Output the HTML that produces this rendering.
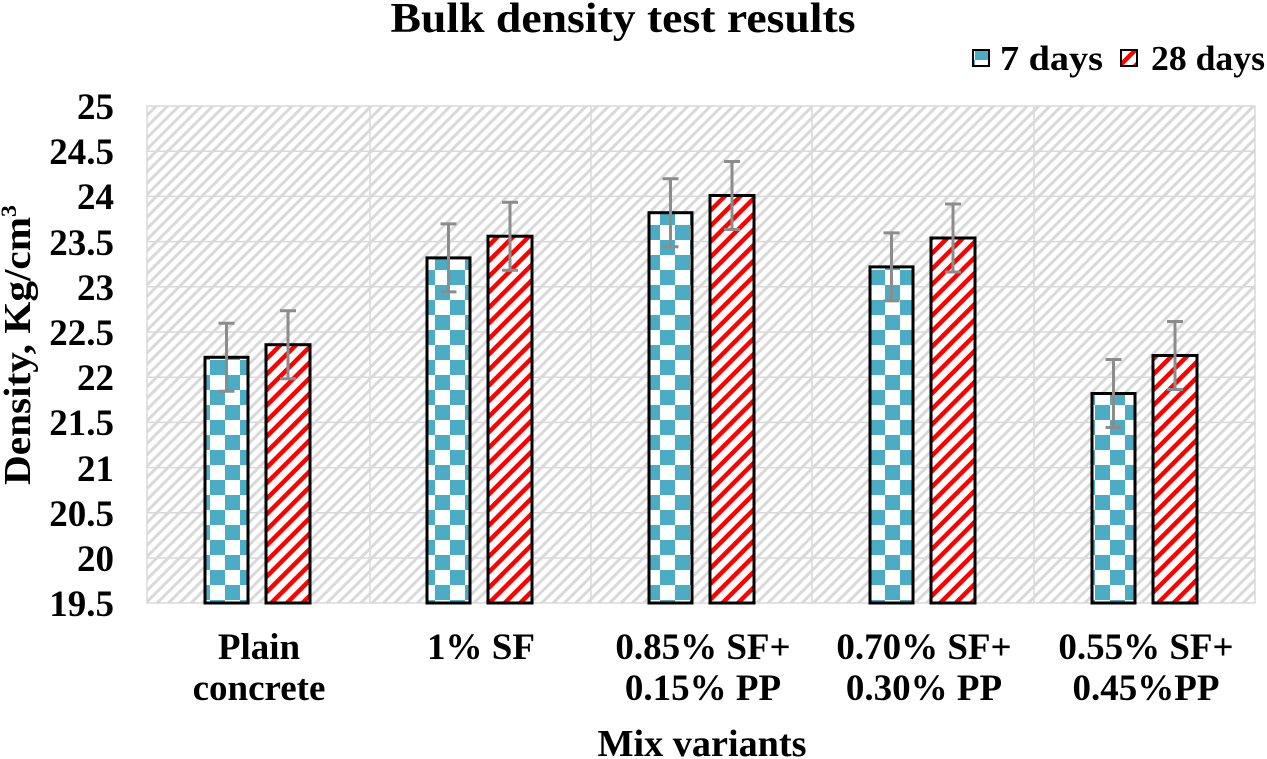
<!DOCTYPE html>
<html><head><meta charset="utf-8"><style>
html,body{margin:0;padding:0;background:#fff;}
svg{display:block;font-family:"Liberation Serif",serif;font-weight:bold;}
</style></head><body>
<svg width="1267" height="759" viewBox="0 0 1267 759" xmlns="http://www.w3.org/2000/svg">
<defs>
<pattern id="bg" width="8" height="8" patternUnits="userSpaceOnUse" patternTransform="rotate(45)">
<rect width="8" height="8" fill="#fff"/><rect width="3" height="8" fill="#d9d9d9"/>
</pattern>
<pattern id="chk" width="30" height="30" patternUnits="userSpaceOnUse" x="0" y="0">
<rect width="30" height="30" fill="#fff"/><rect width="15" height="15" fill="#4bacc6"/><rect x="15" y="15" width="15" height="15" fill="#4bacc6"/>
</pattern>
<pattern id="str" width="11" height="11" patternUnits="userSpaceOnUse" patternTransform="rotate(45)">
<rect width="11" height="11" fill="#fff"/><rect width="4.5" height="11" fill="#ff0000"/>
</pattern>
</defs>
<text x="623" y="32" font-size="42" text-anchor="middle" textLength="465" lengthAdjust="spacingAndGlyphs">Bulk density test results</text>
<rect x="973" y="50" width="16" height="16" fill="url(#chk)" stroke="#000" stroke-width="2"/>
<text x="1000" y="70" font-size="35" textLength="103" lengthAdjust="spacingAndGlyphs">7 days</text>
<rect x="1121" y="50" width="16" height="16" fill="url(#str)" stroke="#000" stroke-width="2"/>
<text x="1151" y="70" font-size="35" textLength="114" lengthAdjust="spacingAndGlyphs">28 days</text>
<rect x="147" y="106" width="1108" height="497" fill="url(#bg)" stroke="#d9d9d9" stroke-width="1.5"/>
<g stroke="#d9d9d9" stroke-width="1.5">
<line x1="147" x2="1255" y1="151.2" y2="151.2"/><line x1="147" x2="1255" y1="196.4" y2="196.4"/>
<line x1="147" x2="1255" y1="241.6" y2="241.6"/><line x1="147" x2="1255" y1="286.8" y2="286.8"/>
<line x1="147" x2="1255" y1="332" y2="332"/><line x1="147" x2="1255" y1="377.2" y2="377.2"/>
<line x1="147" x2="1255" y1="422.4" y2="422.4"/><line x1="147" x2="1255" y1="467.6" y2="467.6"/>
<line x1="147" x2="1255" y1="512.8" y2="512.8"/><line x1="147" x2="1255" y1="558" y2="558"/>
<line x1="370" x2="370" y1="106" y2="603"/><line x1="591" x2="591" y1="106" y2="603"/>
<line x1="812" x2="812" y1="106" y2="603"/><line x1="1034" x2="1034" y1="106" y2="603"/>
</g>
<g font-size="37" text-anchor="end">
<text x="114" y="119">25</text><text x="114" y="164">24.5</text><text x="114" y="209">24</text>
<text x="114" y="255">23.5</text><text x="114" y="300">23</text><text x="114" y="345">22.5</text>
<text x="114" y="390">22</text><text x="114" y="435">21.5</text><text x="114" y="481">21</text>
<text x="114" y="526">20.5</text><text x="114" y="571">20</text><text x="114" y="616">19.5</text>
</g>
<text transform="translate(30,345) rotate(-90)" font-size="38" text-anchor="middle" textLength="280" lengthAdjust="spacingAndGlyphs">Density, Kg/cm<tspan font-size="22" dy="-14">3</tspan></text>
<g stroke="#000" stroke-width="3">
<rect x="205" y="357.3" width="43" height="245.7" fill="url(#chk)"/>
<rect x="266" y="344.7" width="44" height="258.3" fill="url(#str)"/>
<rect x="427" y="257.9" width="43" height="345.1" fill="url(#chk)"/>
<rect x="488" y="236.2" width="44" height="366.8" fill="url(#str)"/>
<rect x="649" y="212.7" width="43" height="390.3" fill="url(#chk)"/>
<rect x="710" y="195.5" width="44" height="407.5" fill="url(#str)"/>
<rect x="870" y="266.9" width="43" height="336.1" fill="url(#chk)"/>
<rect x="931" y="238" width="44" height="365" fill="url(#str)"/>
<rect x="1092" y="393.5" width="43" height="209.5" fill="url(#chk)"/>
<rect x="1153" y="355.5" width="44" height="247.5" fill="url(#str)"/>
</g>
<g stroke="#8c8c8c" stroke-width="3" fill="none">
<path d="M226.5 323.3V391.3M218.5 323.3H234.5M218.5 391.3H234.5"/>
<path d="M288 310.7V378.7M280 310.7H296M280 378.7H296"/>
<path d="M448.5 223.9V291.9M440.5 223.9H456.5M440.5 291.9H456.5"/>
<path d="M510 202.2V270.2M502 202.2H518M502 270.2H518"/>
<path d="M670.5 178.7V246.7M662.5 178.7H678.5M662.5 246.7H678.5"/>
<path d="M732 161.5V229.5M724 161.5H740M724 229.5H740"/>
<path d="M891.5 232.9V300.9M883.5 232.9H899.5M883.5 300.9H899.5"/>
<path d="M953 204V272M945 204H961M945 272H961"/>
<path d="M1113.5 359.5V427.5M1105.5 359.5H1121.5M1105.5 427.5H1121.5"/>
<path d="M1175 321.5V389.5M1167 321.5H1183M1167 389.5H1183"/>
</g>
<g font-size="37" text-anchor="middle">
<text x="259" y="659">Plain</text><text x="259" y="700">concrete</text>
<text x="481" y="659">1% SF</text>
<text x="703" y="659">0.85% SF+</text><text x="703" y="700">0.15% PP</text>
<text x="924" y="659">0.70% SF+</text><text x="924" y="700">0.30% PP</text>
<text x="1146" y="659">0.55% SF+</text><text x="1146" y="700">0.45%PP</text>
</g>
<text x="702" y="756" font-size="38" text-anchor="middle" textLength="209" lengthAdjust="spacingAndGlyphs">Mix variants</text>
</svg>
</body></html>
